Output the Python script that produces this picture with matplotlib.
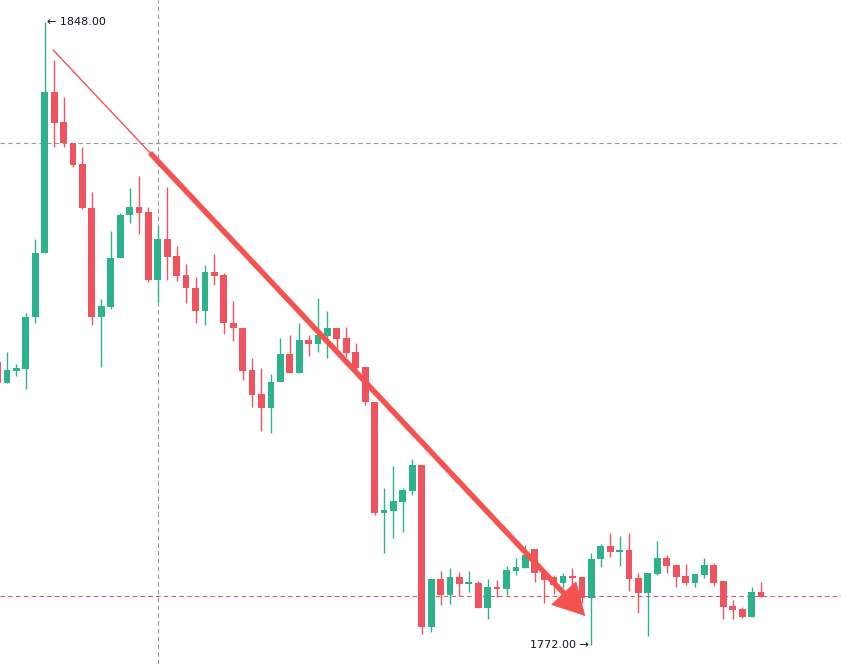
import matplotlib
matplotlib.use("Agg")
import matplotlib.pyplot as plt

# OHLC (one entry per candle)
opens = [1806.5, 1804.0, 1805.4, 1805.7, 1812.0, 1819.8, 1839.5, 1835.8, 1833.2, 1830.7,
         1825.3, 1812.0, 1813.2, 1819.2, 1824.5, 1825.4, 1824.8, 1816.5, 1821.5, 1819.4,
         1817.1, 1815.5, 1812.7, 1817.5, 1817.1, 1811.3, 1810.7, 1805.5, 1802.6, 1800.9,
         1804.1, 1807.5, 1805.2, 1809.2, 1808.7, 1809.7, 1810.7, 1809.4, 1807.7, 1805.9,
         1801.6, 1788.1, 1788.3, 1789.4, 1790.8, 1794.0, 1774.2, 1780.0, 1778.1, 1780.3,
         1779.4, 1779.6, 1776.5, 1779.1, 1778.8, 1781.0, 1781.4, 1783.7, 1780.8, 1780.3,
         1779.6, 1780.4, 1780.3, 1777.7, 1782.5, 1784.1, 1783.3, 1783.6, 1780.2, 1778.3,
         1780.6, 1782.6, 1781.7, 1780.4, 1779.6, 1780.5, 1781.7, 1779.8, 1776.7, 1776.4,
         1775.4, 1778.5]
highs = [1807.3, 1807.7, 1806.3, 1812.5, 1821.5, 1848.0, 1843.4, 1838.8, 1833.2, 1832.7,
         1827.3, 1814.2, 1822.5, 1824.7, 1827.7, 1829.2, 1825.4, 1823.1, 1827.9, 1820.7,
         1818.5, 1816.9, 1818.4, 1819.7, 1817.4, 1814.0, 1810.7, 1807.0, 1805.8, 1805.1,
         1809.4, 1809.8, 1811.3, 1809.8, 1814.3, 1812.7, 1810.7, 1810.8, 1808.8, 1805.9,
         1801.6, 1791.1, 1793.8, 1791.1, 1794.7, 1794.0, 1780.0, 1781.0, 1781.4, 1780.9,
         1781.0, 1779.8, 1780.0, 1779.9, 1781.6, 1782.6, 1784.2, 1783.7, 1781.1, 1780.5,
         1780.8, 1781.4, 1780.3, 1783.2, 1784.3, 1785.7, 1785.3, 1785.7, 1780.8, 1780.8,
         1784.7, 1783.0, 1781.7, 1781.9, 1780.6, 1782.6, 1782.0, 1779.8, 1777.5, 1776.6,
         1779.1, 1779.7]
lows = [1803.6, 1804.0, 1804.8, 1803.2, 1811.3, 1819.8, 1832.7, 1832.7, 1830.3, 1825.2,
        1811.0, 1805.9, 1813.0, 1819.2, 1823.5, 1822.1, 1816.3, 1813.8, 1816.5, 1816.4,
        1813.7, 1811.3, 1811.0, 1815.9, 1809.9, 1809.1, 1804.3, 1801.0, 1798.1, 1797.9,
        1804.1, 1805.2, 1805.2, 1807.3, 1807.7, 1807.0, 1808.2, 1807.1, 1805.5, 1801.3,
        1787.9, 1783.2, 1785.0, 1785.8, 1790.3, 1773.3, 1773.6, 1776.9, 1777.0, 1778.0,
        1778.5, 1776.5, 1775.2, 1777.8, 1778.1, 1780.5, 1781.4, 1779.7, 1777.1, 1778.2,
        1778.9, 1779.1, 1777.1, 1772.0, 1781.5, 1782.7, 1781.6, 1778.6, 1775.9, 1773.1,
        1780.5, 1780.8, 1779.1, 1779.3, 1779.1, 1780.2, 1779.2, 1775.2, 1775.2, 1775.3,
        1775.4, 1777.8]
closes = [1804.0, 1805.5, 1805.8, 1812.0, 1819.8, 1839.5, 1835.7, 1833.2, 1830.5, 1825.3,
          1812.0, 1813.3, 1819.2, 1824.5, 1825.4, 1824.7, 1816.5, 1821.5, 1819.3, 1817.0,
          1815.5, 1812.7, 1817.5, 1817.0, 1811.3, 1810.7, 1805.4, 1802.5, 1800.9, 1804.1,
          1807.5, 1805.2, 1809.2, 1808.7, 1809.8, 1810.7, 1809.3, 1807.6, 1805.8, 1801.6,
          1788.1, 1788.5, 1789.6, 1790.9, 1794.0, 1774.2, 1780.0, 1778.1, 1780.3, 1779.4,
          1779.7, 1776.5, 1779.1, 1778.8, 1781.1, 1781.5, 1783.0, 1780.8, 1779.9, 1779.3,
          1780.4, 1780.2, 1777.7, 1782.5, 1784.1, 1783.3, 1783.6, 1780.0, 1778.3, 1780.8,
          1782.6, 1781.6, 1780.3, 1779.6, 1780.6, 1781.7, 1779.6, 1776.6, 1776.3, 1775.4,
          1778.5, 1777.8]

hi_price, lo_price = 1848.00, 1772.00
hi_idx, lo_idx = 5, 63
crosshair_idx, crosshair_price = 17, 1833.2
last_line = 1778.0
# trend arrow drawn on the chart: start, where it thickens, tip
arrow_start = (5.88, 1844.6)
arrow_mid = (16.2, 1832.0)
arrow_tip = (62.3, 1775.6)

UP, DOWN = "#2cb38c", "#ef5360"
ARROW = "#f4524f"

fig = plt.figure(figsize=(8.41, 6.64), dpi=100)
ax = fig.add_axes([0, 0, 1, 1])
ax.set_xlim(0.255, 89.49)
ax.set_ylim(1769.68, 1850.68)
ax.axis("off")

# crosshair + last price line
ax.axhline(crosshair_price, color="#9598a1", lw=0.8, ls=(0, (4, 3)), zorder=1)
ax.axvline(crosshair_idx, color="#9598a1", lw=0.8, ls=(0, (4, 3)), zorder=1)
ax.axhline(last_line, color="#e0566a", lw=0.8, ls=(0, (4, 3)), zorder=1)

# candles
min_body = 0.12
for i, (o, h, l, c) in enumerate(zip(opens, highs, lows, closes)):
    col = UP if c >= o else DOWN
    ax.vlines(i, l, h, color=col, lw=1.0, zorder=2)
    bottom = min(o, c)
    height = max(abs(c - o), min_body)
    ax.bar(i, height, bottom=bottom, width=0.72, color=col, linewidth=0, zorder=3)

# trend arrow: thin start, thick body, filled head
ax.plot([arrow_start[0], arrow_mid[0]], [arrow_start[1], arrow_mid[1]],
        color=ARROW, lw=1.0, solid_capstyle="round", zorder=4)
ax.annotate("", xy=arrow_tip, xytext=arrow_mid,
            arrowprops=dict(arrowstyle="simple,head_length=2.2,head_width=2.4,tail_width=0.34",
                            mutation_scale=10, facecolor=ARROW, edgecolor=ARROW,
                            lw=0.5, shrinkA=0, shrinkB=0),
            zorder=4)

# high / low labels
ax.annotate(f"\u2190 {hi_price:.2f}", xy=(hi_idx, hi_price), xytext=(2, 0),
            textcoords="offset points", ha="left", va="center",
            fontsize=8, color="#131722")
ax.annotate(f"{lo_price:.2f} \u2192", xy=(lo_idx, lo_price), xytext=(-2, 0),
            textcoords="offset points", ha="right", va="center",
            fontsize=8, color="#131722")

fig.savefig("out.png", dpi=100, facecolor="white")
